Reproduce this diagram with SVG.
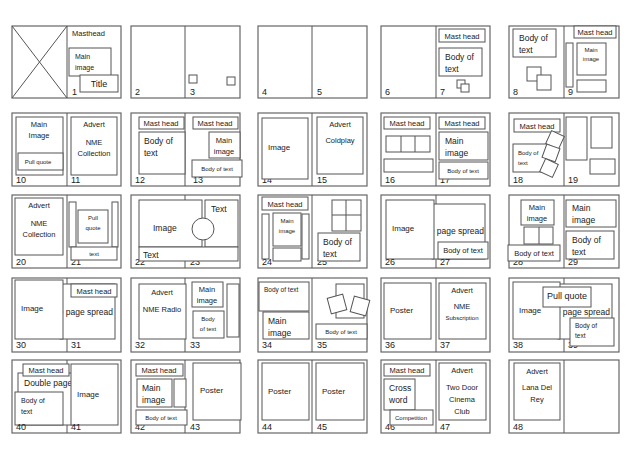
<svg xmlns="http://www.w3.org/2000/svg" width="638" height="451" viewBox="0 0 638 451">
<style>
.sp{fill:#fff;stroke:#666;stroke-width:1.2}
.dv{stroke:#555;stroke-width:1}
.b{fill:#fff;stroke:#555;stroke-width:1}
text{font-family:"Liberation Sans",Arial,sans-serif;fill:#222}
.n{font-size:9px}
.t{font-size:7.5px;text-anchor:middle}
.s{font-size:6px;text-anchor:middle}
.m{font-size:9px;text-anchor:middle}
.l{font-size:8.5px}
.e{font-size:8.5px;text-anchor:end}
</style>
<rect width="638" height="451" fill="#fff"/>
<g id="s1">
<rect class="sp" x="12" y="26" width="109" height="72"/><line class="dv" x1="67" y1="26" x2="67" y2="98"/>
<line class="dv" x1="12" y1="26" x2="67" y2="98"/><line class="dv" x1="67" y1="26" x2="12" y2="98"/>
<text x="72" y="36" font-size="7.5">Masthead</text>
<rect class="b" x="69" y="48" width="42" height="28"/><text x="75" y="59" font-size="7">Main</text><text x="75" y="70" font-size="7">image</text>
<rect class="b" x="80" y="75" width="38" height="17"/><text x="99" y="87" class="m">Title</text>
<text class="n" x="72" y="95">1</text></g>
<g id="s2">
<rect class="sp" x="131" y="26" width="109" height="72"/><line class="dv" x1="185" y1="26" x2="185" y2="98"/>
<rect class="b" x="189" y="75" width="8" height="8"/><rect class="b" x="227" y="77" width="8" height="8"/>
<text class="n" x="135" y="95">2</text><text class="n" x="190" y="95">3</text></g>
<g id="s3">
<rect class="sp" x="258" y="26" width="109" height="72"/><line class="dv" x1="312" y1="26" x2="312" y2="98"/>
<text class="n" x="262" y="95">4</text><text class="n" x="317" y="95">5</text></g>
<g id="s4">
<rect class="sp" x="381" y="26" width="109" height="72"/><line class="dv" x1="436" y1="26" x2="436" y2="98"/>
<rect class="b" x="439" y="29" width="46" height="13"/><text x="462" y="39" class="t">Mast head</text>
<rect class="b" x="439" y="48" width="43" height="28"/><text x="445" y="60" class="l">Body of</text><text x="445" y="72" class="l">text</text>
<rect class="b" x="457" y="80" width="8" height="8"/><rect class="b" x="461" y="84" width="8" height="8"/>
<text class="n" x="385" y="95">6</text><text class="n" x="440" y="95">7</text></g>
<g id="s5">
<rect class="sp" x="509" y="26" width="110" height="72"/><line class="dv" x1="564" y1="26" x2="564" y2="98"/>
<rect class="b" x="513" y="29" width="43" height="28"/><text x="519" y="41" class="l">Body of</text><text x="519" y="53" class="l">text</text>
<rect class="b" x="527" y="67" width="14" height="14"/><rect class="b" x="537" y="75" width="14" height="15"/>
<rect class="b" x="574" y="26" width="42" height="12"/><text x="595" y="35" class="t">Mast head</text>
<rect class="b" x="566" y="43" width="7" height="44"/>
<rect class="b" x="577" y="43" width="29" height="32"/><text x="591" y="52" class="s">Main</text><text x="591" y="61" class="s">image</text>
<rect class="b" x="577" y="80" width="29" height="12"/>
<text class="n" x="513" y="95">8</text><text class="n" x="568" y="95">9</text></g>

<g id="s10">
<rect class="sp" x="12" y="113" width="109" height="73"/><line class="dv" x1="67" y1="113" x2="67" y2="186"/>
<rect class="b" x="16" y="117" width="47" height="58"/><text x="39" y="127" class="t">Main</text><text x="39" y="138" class="t">Image</text>
<rect class="b" x="18" y="153" width="45" height="17"/><text x="38" y="164" class="s">Pull quote</text>
<rect class="b" x="71" y="117" width="46" height="58"/><text x="94" y="127" class="t">Advert</text><text x="94" y="145" class="t">NME</text><text x="94" y="156" class="t">Collection</text>
<text class="n" x="16" y="183">10</text><text class="n" x="71" y="183">11</text></g>
<g id="s12">
<rect class="sp" x="131" y="113" width="109" height="73"/><line class="dv" x1="185" y1="113" x2="185" y2="186"/>
<rect class="b" x="139" y="117" width="45" height="12"/><text x="161" y="126" class="t">Mast head</text>
<rect class="b" x="139" y="132" width="46" height="42"/><text x="144" y="144" class="l">Body of</text><text x="144" y="156" class="l">text</text>
<rect class="b" x="193" y="117" width="45" height="12"/><text x="215" y="126" class="t">Mast head</text>
<rect class="b" x="209" y="132" width="31" height="26"/><text x="224" y="143" class="t">Main</text><text x="224" y="154" class="t">image</text>
<text class="n" x="135" y="183">12</text><text class="n" x="193" y="183">13</text>
<rect class="b" x="192" y="160" width="50" height="17"/><text x="217" y="171" class="s" font-size="6.5">Body of text</text></g>
<g id="s14">
<rect class="sp" x="258" y="113" width="109" height="73"/><line class="dv" x1="312" y1="113" x2="312" y2="186"/>
<text class="n" x="262" y="183">14</text>
<rect class="b" x="262" y="118" width="46" height="61"/><text x="268" y="150" font-size="8">Image</text>
<rect class="b" x="317" y="117" width="46" height="57"/><text x="340" y="127" class="t">Advert</text><text x="340" y="143" class="t">Coldplay</text>
<text class="n" x="317" y="183">15</text></g>
<g id="s16">
<rect class="sp" x="381" y="113" width="109" height="73"/><line class="dv" x1="436" y1="113" x2="436" y2="186"/>
<rect class="b" x="384" y="117" width="46" height="12"/><text x="407" y="126" class="t">Mast head</text>
<rect class="b" x="386" y="136" width="44" height="16"/><line class="dv" x1="401" y1="136" x2="401" y2="152"/><line class="dv" x1="415" y1="136" x2="415" y2="152"/>
<rect class="b" x="384" y="159" width="49" height="13"/>
<text class="n" x="385" y="183">16</text><text class="n" x="440" y="183">17</text>
<rect class="b" x="439" y="117" width="46" height="12"/><text x="462" y="126" class="t">Mast head</text>
<rect class="b" x="439" y="132" width="49" height="28"/><text x="445" y="144" class="l">Main</text><text x="445" y="156" class="l">image</text>
<rect class="b" x="439" y="162" width="49" height="17"/><text x="463" y="173" class="s" font-size="6.5">Body of text</text></g>
<g id="s18">
<rect class="sp" x="509" y="113" width="110" height="73"/><line class="dv" x1="564" y1="113" x2="564" y2="186"/>
<rect class="b" x="514" y="119" width="46" height="13"/><text x="537" y="129" class="t">Mast head</text>
<rect class="b" x="513" y="144" width="40" height="28"/><text x="518" y="155" font-size="6">Body of</text><text x="518" y="165" font-size="6">text</text>
<rect class="b" x="548" y="133" width="14" height="14" transform="rotate(25 555 140)"/>
<rect class="b" x="544" y="146" width="14" height="14" transform="rotate(20 551 153)"/>
<rect class="b" x="542" y="161" width="14" height="14" transform="rotate(25 549 168)"/>
<rect class="b" x="566" y="117" width="21" height="43"/><rect class="b" x="591" y="117" width="21" height="31"/><rect class="b" x="590" y="159" width="25" height="15"/>
<text class="n" x="513" y="183">18</text><text class="n" x="568" y="183">19</text></g>

<g id="s20">
<rect class="sp" x="12" y="195" width="109" height="73"/><line class="dv" x1="67" y1="195" x2="67" y2="268"/>
<rect class="b" x="15" y="198" width="48" height="57"/><text x="39" y="208" class="t">Advert</text><text x="39" y="226" class="t">NME</text><text x="39" y="237" class="t">Collection</text>
<rect class="b" x="69" y="202" width="7" height="45"/><rect class="b" x="112" y="202" width="6" height="45"/>
<rect class="b" x="78" y="210" width="30" height="33"/><text x="93" y="220" class="s">Pull</text><text x="93" y="230" class="s">quote</text>
<text class="n" x="16" y="265">20</text><text class="n" x="71" y="265">21</text>
<rect class="b" x="71" y="247" width="46" height="13"/><text x="94" y="256" class="s">text</text></g>
<g id="s22">
<rect class="sp" x="131" y="195" width="109" height="73"/><line class="dv" x1="185" y1="195" x2="185" y2="268"/>
<text class="n" x="135" y="265">22</text><text class="n" x="190" y="265">23</text>
<rect class="b" x="139" y="200" width="63" height="47"/><rect class="b" x="205" y="200" width="33" height="47"/>
<text x="153" y="231" font-size="8.5">Image</text><text x="211" y="212" font-size="8.5">Text</text>
<circle class="b" cx="203" cy="229" r="11"/>
<rect class="b" x="139" y="247" width="99" height="14"/><text x="143" y="258" font-size="8.5">Text</text></g>
<g id="s24">
<rect class="sp" x="258" y="195" width="109" height="73"/><line class="dv" x1="312" y1="195" x2="312" y2="268"/>
<rect class="b" x="262" y="197" width="46" height="13"/><text x="285" y="207" class="t">Mast head</text>
<rect class="b" x="262" y="214" width="7" height="45"/><rect class="b" x="302" y="214" width="7" height="45"/>
<rect class="b" x="273" y="213" width="28" height="33"/><text x="287" y="223" class="s">Main</text><text x="287" y="233" class="s">image</text>
<rect class="b" x="273" y="248" width="28" height="13"/>
<text class="n" x="262" y="265">24</text><text class="n" x="317" y="265">25</text>
<rect class="b" x="332" y="200" width="29" height="31"/><line class="dv" x1="346" y1="200" x2="346" y2="231"/><line class="dv" x1="332" y1="215" x2="361" y2="215"/>
<rect class="b" x="318" y="233" width="42" height="28"/><text x="323" y="245" class="l">Body of</text><text x="323" y="257" class="l">text</text></g>
<g id="s26">
<rect class="sp" x="381" y="195" width="109" height="73"/><line class="dv" x1="436" y1="195" x2="436" y2="268"/>
<rect class="b" x="432" y="204" width="53" height="55"/><text x="484" y="234" class="e">Double page spread</text>
<rect class="b" x="386" y="200" width="48" height="59"/><text x="392" y="231" font-size="8">Image</text>
<rect class="b" x="438" y="242" width="50" height="17"/><text x="463" y="253" class="t" font-size="7">Body of text</text>
<text class="n" x="385" y="265">26</text><text class="n" x="440" y="265">27</text></g>
<g id="s28">
<rect class="sp" x="509" y="195" width="110" height="73"/><line class="dv" x1="564" y1="195" x2="564" y2="268"/>
<rect class="b" x="521" y="200" width="33" height="25"/><text x="537" y="210" class="t">Main</text><text x="537" y="221" class="t">image</text>
<rect class="b" x="524" y="227" width="29" height="17"/><line class="dv" x1="539" y1="227" x2="539" y2="244"/>
<text class="n" x="513" y="265">28</text><text class="n" x="568" y="265">29</text>
<rect class="b" x="508" y="245" width="52" height="16"/><text x="534" y="256" class="t" font-size="7">Body of text</text>
<rect class="b" x="566" y="200" width="50" height="27"/><text x="572" y="211" class="l">Main</text><text x="572" y="223" class="l">image</text>
<rect class="b" x="566" y="231" width="48" height="28"/><text x="572" y="243" class="l">Body of</text><text x="572" y="255" class="l">text</text></g>

<g id="s30">
<rect class="sp" x="12" y="278" width="109" height="74"/><line class="dv" x1="67" y1="278" x2="67" y2="352"/>
<rect class="b" x="60" y="284" width="55" height="55"/><text x="113" y="315" class="e">Double page spread</text>
<rect class="b" x="15" y="280" width="48" height="59"/><text x="21" y="311" font-size="8">Image</text>
<rect class="b" x="71" y="284" width="46" height="13"/><text x="94" y="294" class="t">Mast head</text>
<text class="n" x="16" y="348">30</text><text class="n" x="71" y="348">31</text></g>
<g id="s32">
<rect class="sp" x="131" y="278" width="109" height="74"/><line class="dv" x1="185" y1="278" x2="185" y2="352"/>
<rect class="b" x="139" y="284" width="47" height="55"/><text x="162" y="295" class="t">Advert</text><text x="162" y="312" class="t" font-size="7">NME Radio</text>
<rect class="b" x="192" y="282" width="31" height="25"/><text x="207" y="292" class="t">Main</text><text x="207" y="303" class="t">image</text>
<rect class="b" x="193" y="311" width="31" height="27"/><text x="208" y="321" class="s">Body</text><text x="208" y="331" class="s">of text</text>
<rect class="b" x="227" y="284" width="12" height="53"/>
<text class="n" x="135" y="348">32</text><text class="n" x="190" y="348">33</text></g>
<g id="s34">
<rect class="sp" x="258" y="278" width="109" height="74"/><line class="dv" x1="312" y1="278" x2="312" y2="352"/>
<rect class="b" x="259" y="282" width="50" height="29"/><text x="264" y="292" font-size="6.5">Body of text</text>
<rect class="b" x="263" y="312" width="46" height="27"/><text x="268" y="324" class="l">Main</text><text x="268" y="336" class="l">image</text>
<rect class="b" x="336" y="284" width="28" height="34"/>
<rect class="b" x="329" y="296" width="16" height="16" transform="rotate(-15 337 304)"/>
<rect class="b" x="352" y="298" width="16" height="16" transform="rotate(15 360 306)"/>
<rect class="b" x="316" y="324" width="51" height="15"/><text x="341" y="334" class="s" font-size="6.5">Body of text</text>
<text class="n" x="262" y="348">34</text><text class="n" x="317" y="348">35</text></g>
<g id="s36">
<rect class="sp" x="381" y="278" width="109" height="74"/><line class="dv" x1="436" y1="278" x2="436" y2="352"/>
<rect class="b" x="384" y="283" width="47" height="56"/><text x="390" y="313" font-size="8">Poster</text>
<rect class="b" x="439" y="283" width="47" height="56"/><text x="462" y="293" class="t">Advert</text><text x="462" y="309" class="t">NME</text><text x="462" y="320" class="s">Subscription</text>
<text class="n" x="385" y="348">36</text><text class="n" x="440" y="348">37</text></g>
<g id="s38">
<rect class="sp" x="509" y="278" width="110" height="74"/><line class="dv" x1="564" y1="278" x2="564" y2="352"/>
<rect class="b" x="558" y="284" width="54" height="55"/><text x="610" y="315" class="e">Double page spread</text>
<rect class="b" x="513" y="282" width="47" height="57"/><text x="519" y="313" font-size="8">Image</text>
<text class="n" x="513" y="348">38</text><text class="n" x="568" y="348">39</text>
<rect class="b" x="543" y="287" width="48" height="20"/><text x="567" y="299" class="m" font-size="8.5">Pull quote</text>
<rect class="b" x="570" y="318" width="44" height="28"/><text x="575" y="328" font-size="6.5">Body of</text><text x="575" y="338" font-size="6.5">text</text></g>

<g id="s40">
<rect class="sp" x="12" y="360" width="109" height="73"/><line class="dv" x1="67" y1="360" x2="67" y2="433"/>
<rect class="b" x="18" y="373" width="60" height="52"/><text x="24" y="386" font-size="8.5">Double page spread</text>
<rect class="b" x="71" y="364" width="47" height="61"/><text x="77" y="397" font-size="8">Image</text>
<rect class="b" x="23" y="364" width="46" height="12"/><text x="46" y="373" class="t">Mast head</text>
<rect class="b" x="15" y="392" width="48" height="33"/><text x="21" y="403" font-size="7">Body of</text><text x="21" y="414" font-size="7">text</text>
<text class="n" x="16" y="430">40</text><text class="n" x="71" y="430">41</text></g>
<g id="s42">
<rect class="sp" x="131" y="360" width="109" height="73"/><line class="dv" x1="185" y1="360" x2="185" y2="433"/>
<rect class="b" x="136" y="364" width="47" height="12"/><text x="159" y="373" class="t">Mast head</text>
<rect class="b" x="137" y="379" width="35" height="28"/><text x="142" y="391" class="l">Main</text><text x="142" y="403" class="l">image</text>
<rect class="b" x="174" y="379" width="12" height="28"/>
<text class="n" x="135" y="430">42</text><text class="n" x="190" y="430">43</text>
<rect class="b" x="136" y="410" width="51" height="15"/><text x="161" y="420" class="s" font-size="6.5">Body of text</text>
<rect class="b" x="193" y="363" width="48" height="57"/><text x="200" y="393" font-size="8">Poster</text></g>
<g id="s44">
<rect class="sp" x="258" y="360" width="109" height="73"/><line class="dv" x1="312" y1="360" x2="312" y2="433"/>
<rect class="b" x="262" y="363" width="47" height="57"/><text x="268" y="394" font-size="8">Poster</text>
<rect class="b" x="316" y="363" width="48" height="57"/><text x="322" y="394" font-size="8">Poster</text>
<text class="n" x="262" y="430">44</text><text class="n" x="317" y="430">45</text></g>
<g id="s46">
<rect class="sp" x="381" y="360" width="109" height="73"/><line class="dv" x1="436" y1="360" x2="436" y2="433"/>
<rect class="b" x="384" y="364" width="46" height="12"/><text x="407" y="373" class="t">Mast head</text>
<rect class="b" x="384" y="379" width="31" height="31"/><text x="389" y="391" class="l">Cross</text><text x="389" y="403" class="l">word</text>
<text class="n" x="385" y="430">46</text><text class="n" x="440" y="430">47</text>
<rect class="b" x="390" y="410" width="43" height="15"/><text x="411" y="420" class="s" font-size="5.5">Competition</text>
<rect class="b" x="439" y="363" width="47" height="57"/><text x="462" y="373" class="t">Advert</text><text x="462" y="390" class="t">Two Door</text><text x="462" y="402" class="t">Cinema</text><text x="462" y="414" class="t">Club</text></g>
<g id="s48">
<rect class="sp" x="509" y="360" width="110" height="73"/><line class="dv" x1="564" y1="360" x2="564" y2="433"/>
<rect class="b" x="514" y="363" width="46" height="57"/><text x="537" y="374" class="t">Advert</text><text x="537" y="390" class="t">Lana Del</text><text x="537" y="402" class="t">Rey</text>
<text class="n" x="513" y="430">48</text></g>
</svg>
